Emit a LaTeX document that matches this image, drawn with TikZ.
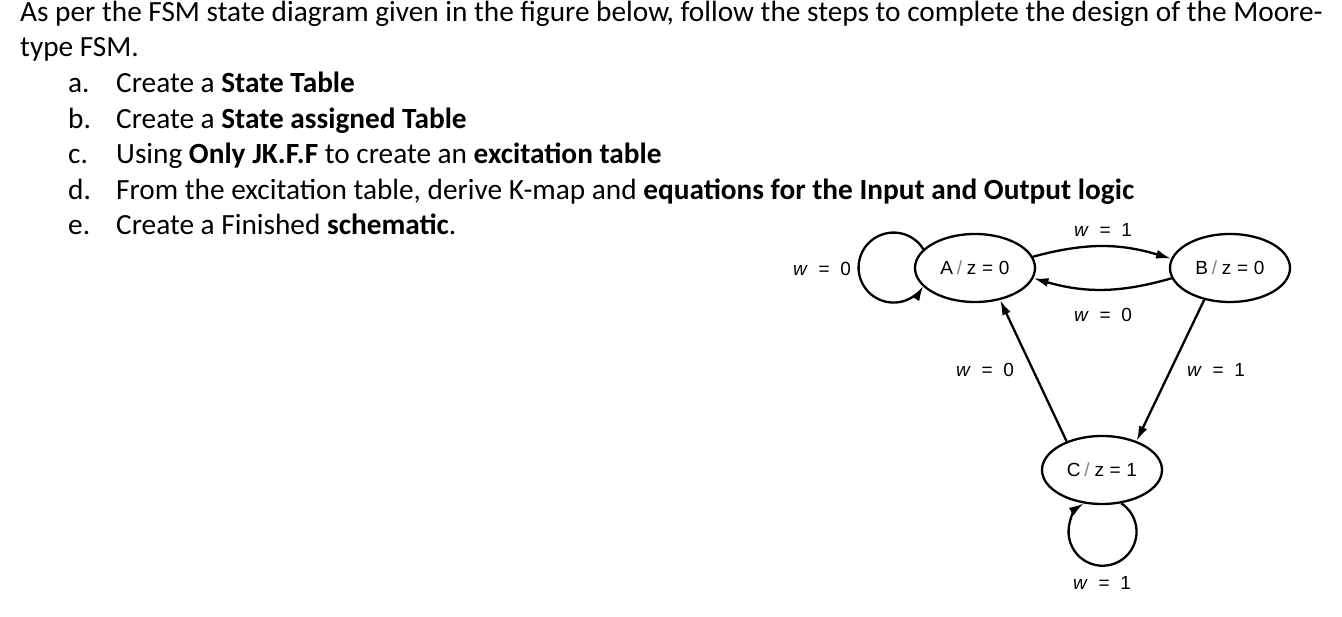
\documentclass[tikz,border=0pt]{standalone}
\usepackage{fontspec}
\setmainfont{Carlito}
\newfontfamily\dfont{Liberation Sans}
\usetikzlibrary{shapes.geometric,arrows.meta}
\tikzset{
  txt/.style={anchor=base west,inner sep=0pt,font=\fontsize{29.3}{35}\selectfont},
  state/.style={draw,ellipse,line width=2.3pt,minimum width=120pt,minimum height=68pt,inner sep=0pt,font=\dfont\fontsize{19}{21}\selectfont},
  lbl/.style={inner sep=0pt,font=\dfont\fontsize{19}{21}\selectfont},
  tr/.style={line width=2.3pt,-{Latex[length=15pt,width=9pt]}}
}
\newcommand{\wlab}[1]{\textit{w}\hspace{0.56em}=\hspace{0.56em}#1}
\newcommand{\slab}[2]{#1\hspace{0.2em}{\color{gray}/}\hspace{0.25em}z\hspace{0.3em}=\hspace{0.3em}#2}
\begin{document}
\begin{tikzpicture}[x=1pt,y=1pt]
\useasboundingbox[fill=white] (0,0) rectangle (1342,617);
% text
\node[txt] (l1) at (20,595) {As per the FSM state diagram given in the figure below, follow the steps to complete the design of the Moore-};
\node[txt] (l2) at (20,560) {type FSM.};
\node[txt] (ia) at (68,524) {a.};
\node[txt] (ta) at (116,524) {Create a \textbf{State Table}};
\node[txt] (ib) at (68,488.5) {b.};
\node[txt] (tb) at (116,488.5) {Create a \textbf{State assigned Table}};
\node[txt] (ic) at (68,453) {c.};
\node[txt] (tc) at (116,453) {Using \textbf{Only JK.F.F} to create an \textbf{excitation table}};
\node[txt] (id) at (68,417.5) {d.};
\node[txt] (td) at (116,417.5) {From the excitation table, derive K-map and \textbf{equations for the Input and Output logic}};
\node[txt] (ie) at (68,382) {e.};
\node[txt] (te) at (116,382) {Create a Finished \textbf{schematic}.};
% states
\node[state] (A) at (975,349) {\slab{A}{0}};
\node[state] (B) at (1230,349) {\slab{B}{0}};
\node[state] (C) at (1102,147) {\slab{C}{1}};
% transitions
\draw[tr] (A.160) arc[start angle=31.7, end angle=328.3, radius=35];
\draw[tr] (A.11) to[bend left=16] (B.171);
\draw[tr] (B.190) to[bend left=16] (A.350);
\draw[tr] (C.141) -- (A.-52);
\draw[tr] (B.231) -- (C.40);
\draw[tr] (C.300) arc[start angle=56.6, end angle=-236.6, radius=34];
% labels
\node[lbl] (la) at (822,348) {\wlab{0}};
\node[lbl] (lab) at (1103,387) {\wlab{1}};
\node[lbl] (lba) at (1103,302) {\wlab{0}};
\node[lbl] (lca) at (985,247) {\wlab{0}};
\node[lbl] (lbc) at (1216,247) {\wlab{1}};
\node[lbl] (lcc) at (1102,34) {\wlab{1}};
\end{tikzpicture}
\end{document}
